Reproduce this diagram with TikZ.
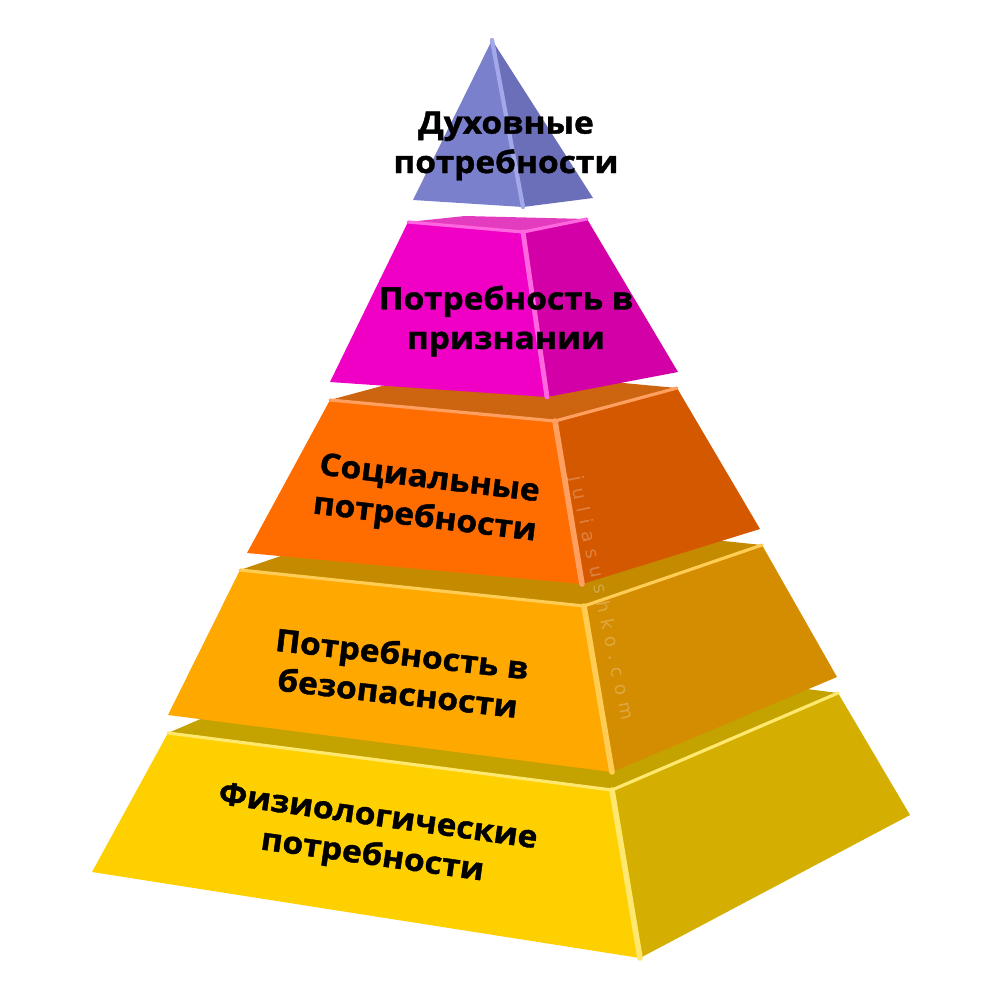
\documentclass[tikz,border=0pt]{standalone}
\usepackage{fontspec}
\newfontfamily\lblfont[FakeStretch=1.08, BoldFeatures={FakeBold=1.3}]{Open Sans}
\newfontfamily\wmfont[LetterSpace=40]{DejaVu Sans}
\definecolor{pFront}{HTML}{7B80CC}
\definecolor{pRight}{HTML}{6B6EB8}
\definecolor{pHl}{HTML}{A3A8EA}
\definecolor{mFront}{HTML}{F000C4}
\definecolor{mRight}{HTML}{D200A6}
\definecolor{mTop}{HTML}{E43CBE}
\definecolor{mHl}{HTML}{FF66E0}
\definecolor{oFront}{HTML}{FF6C00}
\definecolor{oRight}{HTML}{D45800}
\definecolor{oTop}{HTML}{CC6410}
\definecolor{oHl}{HTML}{FFA060}
\definecolor{lFront}{HTML}{FFA800}
\definecolor{lRight}{HTML}{D48C00}
\definecolor{lTop}{HTML}{C48A00}
\definecolor{lHl}{HTML}{FFCC55}
\definecolor{yFront}{HTML}{FFD000}
\definecolor{yRight}{HTML}{D4AE00}
\definecolor{yTop}{HTML}{C4A200}
\definecolor{yHl}{HTML}{FFE870}
\begin{document}
\begin{tikzpicture}[x=0.01cm,y=-0.01cm,
  lbl/.style={font=\lblfont\bfseries\fontsize{8.8}{11.2}\selectfont, align=center, text=black, inner sep=0pt},
  hl/.style={line width=0.9pt, line join=round, line cap=round},
  wm/.style={font=\wmfont\fontsize{5.2}{6}\selectfont, text=white, text opacity=0.25, inner sep=0pt}]
\useasboundingbox[fill=white] (0,0) rectangle (1000,1000);
% ---------- coordinates
% tier 5 (yellow)
\coordinate (L5t) at (168,733); \coordinate (R5t) at (838,693); \coordinate (F5t) at (612,790);
\coordinate (B5t) at (394,636);
\coordinate (L5b) at (92,872); \coordinate (F5b) at (640,958); \coordinate (R5b) at (910,815);
% tier 4 (light orange)
\coordinate (L4t) at (240,570); \coordinate (R4t) at (762,545); \coordinate (F4t) at (584,606);
\coordinate (B4t) at (418,509);
\coordinate (L4b) at (168,715); \coordinate (F4b) at (612,772); \coordinate (R4b) at (837,677);
% tier 3 (orange)
\coordinate (L3t) at (330,400); \coordinate (R3t) at (677,388); \coordinate (F3t) at (555,421);
\coordinate (B3t) at (452,367);
\coordinate (L3b) at (247,553); \coordinate (F3b) at (582,584); \coordinate (R3b) at (760,529);
% tier 2 (magenta)
\coordinate (L2t) at (408,222); \coordinate (R2t) at (587,219); \coordinate (F2t) at (523,232);
\coordinate (B2t) at (465,216);
\coordinate (L2b) at (330,382); \coordinate (F2b) at (547,397); \coordinate (R2b) at (678,372);
% tier 1 (purple)
\coordinate (A) at (492,40); \coordinate (L1) at (413,200); \coordinate (F1) at (523,207); \coordinate (R1) at (593,198);
% ---------- tier 5
\fill[yTop] (L5t) -- (B5t) -- (R5t) -- (F5t) -- cycle;
\fill[yFront] (L5t) -- (F5t) -- (F5b) -- (L5b) -- cycle;
\fill[yRight] (F5t) -- (R5t) -- (R5b) -- (F5b) -- cycle;
\draw[hl, yHl] (L5t) -- (F5t) -- (R5t);
\draw[hl, yHl, line width=1.6pt] (F5t) -- (F5b);
% ---------- tier 4
\fill[lTop] (L4t) -- (B4t) -- (R4t) -- (F4t) -- cycle;
\fill[lFront] (L4t) -- (F4t) -- (F4b) -- (L4b) -- cycle;
\fill[lRight] (F4t) -- (R4t) -- (R4b) -- (F4b) -- cycle;
\draw[hl, lHl] (L4t) -- (F4t) -- (R4t);
\draw[hl, lHl, line width=1.6pt] (F4t) -- (F4b);
% ---------- tier 3
\fill[oTop] (L3t) -- (B3t) -- (R3t) -- (F3t) -- cycle;
\fill[oFront] (L3t) -- (F3t) -- (F3b) -- (L3b) -- cycle;
\fill[oRight] (F3t) -- (R3t) -- (R3b) -- (F3b) -- cycle;
\draw[hl, oHl] (L3t) -- (F3t) -- (R3t);
\draw[hl, oHl, line width=1.6pt] (F3t) -- (F3b);
% ---------- tier 2
\fill[mTop] (L2t) -- (B2t) -- (R2t) -- (F2t) -- cycle;
\fill[mFront] (L2t) -- (F2t) -- (F2b) -- (L2b) -- cycle;
\fill[mRight] (F2t) -- (R2t) -- (R2b) -- (F2b) -- cycle;
\draw[hl, mHl] (L2t) -- (F2t) -- (R2t);
\draw[hl, mHl, line width=1.4pt] (F2t) -- (F2b);
% ---------- tier 1
\fill[pFront] (A) -- (L1) -- (F1) -- cycle;
\fill[pRight] (A) -- (F1) -- (R1) -- cycle;
\draw[hl, pHl, line width=1.2pt] (A) -- (F1);
% ---------- watermark
\node[wm, rotate=-78] (wm) at (601,598) {juliasushko.com};
% ---------- labels
\node[lbl] (t1) at (506,146) {Духовные\\потребности};
\node[lbl] (t2) at (506,321) {Потребность в\\признании};
\node[lbl, rotate=-7] (t3) at (427,500) {Социальные\\потребности};
\node[lbl, rotate=-6.5] (t4) at (400,673) {Потребность в\\безопасности};
\node[lbl, rotate=-8] (t5) at (375,838) {Физиологические\\потребности};
\end{tikzpicture}
\end{document}
